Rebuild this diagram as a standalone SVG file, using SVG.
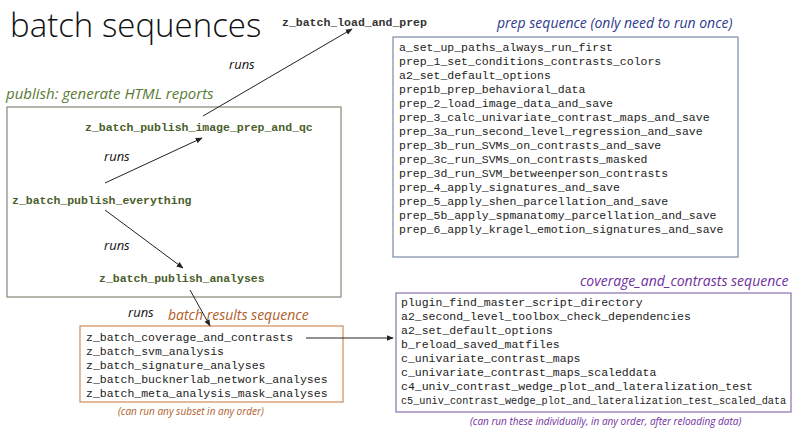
<svg xmlns="http://www.w3.org/2000/svg" width="800" height="431" viewBox="0 0 800 431">
<style>
.m{font-family:"Liberation Mono",monospace;font-size:11.5px;fill:#222}
.g{font-family:"Liberation Mono",monospace;font-size:11.5px;font-weight:bold;fill:#4a5e2a}
.i{font-family:"Open Sans","Liberation Sans",sans-serif;font-style:italic}
.c{stroke:#222;stroke-width:1;fill:none;marker-end:url(#a)}
</style>
<defs><marker id="a" viewBox="0 0 10 10" refX="9" refY="5" markerWidth="7" markerHeight="7" orient="auto"><path d="M0 1L10 5L0 9z" fill="#222"/></marker></defs>
<rect width="800" height="431" fill="#fff"/>
<text x="10" y="37" font-family="'Open Sans','Liberation Sans',sans-serif" font-weight="300" font-size="33" fill="#111">batch sequences</text>
<g id="load"><text class="g" x="282" y="26" style="fill:#333">z_batch_load_and_prep</text></g>
<text class="i" x="229" y="69" font-size="13" fill="#111">runs</text>
<g id="publish">
<text class="i" x="6" y="99" font-size="15" fill="#5b7a35">publish: generate HTML reports</text>
<rect x="7" y="107" width="334" height="190" fill="none" stroke="#808a74" stroke-width="1.2"/>
<text class="g" x="85" y="131">z_batch_publish_image_prep_and_qc</text>
<text class="g" x="12" y="204">z_batch_publish_everything</text>
<text class="g" x="99" y="282">z_batch_publish_analyses</text>
<text class="i" x="104" y="161" font-size="13" fill="#111">runs</text>
<text class="i" x="104" y="250" font-size="13" fill="#111">runs</text>
</g>
<g id="prep">
<text class="i" x="497" y="28" font-size="14" fill="#2d3a8c">prep sequence (only need to run once)</text>
<rect x="393" y="37" width="345" height="220" fill="none" stroke="#7a8aa5" stroke-width="1.2"/>
<text class="m" x="399" y="51">a_set_up_paths_always_run_first</text>
<text class="m" x="399" y="65">prep_1_set_conditions_contrasts_colors</text>
<text class="m" x="399" y="79">a2_set_default_options</text>
<text class="m" x="399" y="93">prep1b_prep_behavioral_data</text>
<text class="m" x="399" y="107">prep_2_load_image_data_and_save</text>
<text class="m" x="399" y="121">prep_3_calc_univariate_contrast_maps_and_save</text>
<text class="m" x="399" y="135">prep_3a_run_second_level_regression_and_save</text>
<text class="m" x="399" y="149">prep_3b_run_SVMs_on_contrasts_and_save</text>
<text class="m" x="399" y="163">prep_3c_run_SVMs_on_contrasts_masked</text>
<text class="m" x="399" y="177">prep_3d_run_SVM_betweenperson_contrasts</text>
<text class="m" x="399" y="191">prep_4_apply_signatures_and_save</text>
<text class="m" x="399" y="205">prep_5_apply_shen_parcellation_and_save</text>
<text class="m" x="399" y="219">prep_5b_apply_spmanatomy_parcellation_and_save</text>
<text class="m" x="399" y="233">prep_6_apply_kragel_emotion_signatures_and_save</text>
</g>
<g id="results">
<text class="i" x="128" y="317" font-size="13" fill="#111">runs</text>
<text class="i" x="168" y="320" font-size="14" fill="#b0602a">batch results sequence</text>
<rect x="80" y="326" width="263" height="76" fill="none" stroke="#d08a5a" stroke-width="1.2"/>
<text class="m" x="86" y="341">z_batch_coverage_and_contrasts</text>
<text class="m" x="86" y="355">z_batch_svm_analysis</text>
<text class="m" x="86" y="369">z_batch_signature_analyses</text>
<text class="m" x="86" y="383">z_batch_bucknerlab_network_analyses</text>
<text class="m" x="86" y="397">z_batch_meta_analysis_mask_analyses</text>
<text class="i" x="118" y="415" font-size="10" fill="#b0602a">(can run any subset in any order)</text>
</g>
<g id="coverage">
<text class="i" x="580" y="286" font-size="14" fill="#7030a0">coverage_and_contrasts sequence</text>
<rect x="396" y="293" width="395" height="119" fill="none" stroke="#8a70b0" stroke-width="1.2"/>
<text class="m" x="401" y="306">plugin_find_master_script_directory</text>
<text class="m" x="401" y="320">a2_second_level_toolbox_check_dependencies</text>
<text class="m" x="401" y="334">a2_set_default_options</text>
<text class="m" x="401" y="348">b_reload_saved_matfiles</text>
<text class="m" x="401" y="362">c_univariate_contrast_maps</text>
<text class="m" x="401" y="376">c_univariate_contrast_maps_scaleddata</text>
<text class="m" x="401" y="390">c4_univ_contrast_wedge_plot_and_lateralization_test</text>
<text class="m" x="401" y="404" style="font-size:10.2px">c5_univ_contrast_wedge_plot_and_lateralization_test_scaled_data</text>
<text class="i" x="470" y="425" font-size="10" fill="#7030a0">(can run these individually, in any order, after reloading data)</text>
</g>
<g id="connectors">
<path class="c" d="M203 116L352 29"/>
<path class="c" d="M105 183L202 138"/>
<path class="c" d="M105 210L183 268"/>
<path class="c" d="M190 290L210 326"/>
<path class="c" d="M306 338L393 338"/>
</g>
</svg>
